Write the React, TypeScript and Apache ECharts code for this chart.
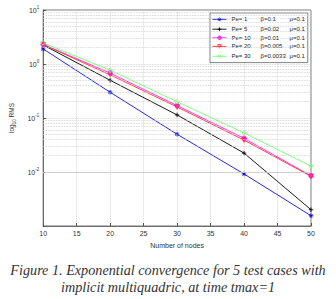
import React, { useEffect, useRef } from "react";
import * as echarts from "echarts";

const nodes = [10, 20, 30, 40, 50];
const pe1 = [1.9, 0.3, 0.05, 0.0092, 0.00155];
const pe5 = [2.25, 0.5, 0.114, 0.0224, 0.002];
const pe10 = [2.3, 0.68, 0.17, 0.042, 0.0085];
const pe20 = [2.3, 0.63, 0.16, 0.039, 0.0083];
const pe30 = [2.45, 0.77, 0.2, 0.053, 0.0129];

const seriesNames = ["Pe= 1", "Pe= 5", "Pe= 10", "Pe= 20", "Pe= 30"];
const betas = ["β=0.1", "β=0.02", "β=0.01", "β=0.005", "β=0.0033"];
const mus = ["μ=0.1", "μ=0.1", "μ=0.1", "μ=0.1", "μ=0.1"];
const colors = ["#1010d0", "#000000", "#ff20ff", "#ff3030", "#70ff70"];
const decades = [-3, -2, -1, 0];
const minorMult = [2, 3, 4, 5, 6, 7, 8, 9];

const captionLines = [
  "Figure 1. Exponential convergence for 5 test cases with",
  "implicit multiquadric, at time tmax=1",
];

const symbols = [
  "path://M5,0L5,10M0,5L10,5M1.5,1.5L8.5,8.5M1.5,8.5L8.5,1.5",
  "path://M5,0L5,10M0,5L10,5",
  "circle",
  "path://M0,1L10,1L5,9Z",
  "path://M5,0L10,5L5,10L0,5Z",
];

export default function App() {
  const ref = useRef<HTMLDivElement>(null);
  useEffect(() => {
    document.body.style.margin = "0";
    const chart = echarts.init(ref.current!, null, { renderer: "svg" });
    const datas = [pe1, pe5, pe10, pe20, pe30];
    const minorLines: any[] = [];
    decades.forEach((d) =>
      minorMult.forEach((m) => minorLines.push({ yAxis: m * Math.pow(10, d) }))
    );
    const itemStyles = colors.map((c, i) => ({
      color: i === 2 ? c : "none",
      borderColor: c,
      borderWidth: 0.9,
    }));
    const series: any[] = datas.map((arr, i) => ({
      name: seriesNames[i],
      type: "line",
      color: colors[i],
      data: arr.map((v, j) => [nodes[j], v]),
      symbol: symbols[i],
      symbolSize: 4.5,
      showAllSymbol: true,
      lineStyle: { color: colors[i], width: 0.9 },
      itemStyle: itemStyles[i],
      z: 3,
    }));
    series.push({
      type: "line",
      data: [],
      silent: true,
      markLine: {
        silent: true,
        symbol: "none",
        label: { show: false },
        lineStyle: { color: "#cccccc", type: "dotted", width: 0.8 },
        data: minorLines,
      },
    });
    chart.setOption({
      animation: false,
      backgroundColor: "#ffffff",
      grid: {
        left: 35,
        right: 25,
        top: 10,
        bottom: 73,
        show: true,
        borderColor: "#555",
        borderWidth: 0.8,
      },
      xAxis: {
        type: "value",
        min: 10,
        max: 50,
        interval: 5,
        name: "Number of nodes",
        nameLocation: "middle",
        nameGap: 16,
        nameTextStyle: { fontSize: 7, color: "#333", fontFamily: "Liberation Sans" },
        axisLine: { lineStyle: { color: "#555", width: 0.8 } },
        axisTick: { inside: true, length: 3, lineStyle: { color: "#555" } },
        axisLabel: {
          fontSize: 7,
          color: "#333",
          margin: 4,
          fontFamily: "Liberation Sans",
        },
        splitLine: { show: true, lineStyle: { color: "#cccccc", type: "dotted", width: 0.8 } },
      },
      yAxis: {
        type: "log",
        logBase: 10,
        min: 0.001,
        max: 10,
        name: "{a|log}{s|10}{a| RMS}",
        nameLocation: "middle",
        nameGap: 25,
        nameTextStyle: {
          rich: {
            a: { fontSize: 6.5, color: "#333", fontFamily: "Liberation Sans" },
            s: { fontSize: 4.5, color: "#333", fontFamily: "Liberation Sans", verticalAlign: "top", padding: [5, 0, 0, 0] },
          },
        },
        axisLine: { lineStyle: { color: "#555", width: 0.8 } },
        axisTick: { inside: true, length: 3, lineStyle: { color: "#555" } },
        axisLabel: {
          margin: 4,
          formatter: (v: number) => {
            const e = Math.round(Math.log10(v));
            if (e === -3) return "";
            return "{b|10}{s|" + e + "}";
          },
          rich: {
            b: { fontSize: 7, color: "#333", fontFamily: "Liberation Sans" },
            s: { fontSize: 4.5, color: "#333", fontFamily: "Liberation Sans", verticalAlign: "bottom", padding: [0, 0, 6, 0] },
          },
        },
        splitLine: { show: true, lineStyle: { color: "#cccccc", type: "dotted", width: 0.8 } },
      },
      legend: {
        data: seriesNames.map((n, i) => ({ name: n, itemStyle: itemStyles[i] })),
        orient: "vertical",
        left: 210,
        top: 13,
        width: 100,
        padding: [2, 3, 2, 2],
        itemGap: 1.3,
        itemWidth: 14,
        itemHeight: 4.5,
        backgroundColor: "#ffffff",
        borderColor: "#333",
        borderWidth: 0.6,
        borderRadius: 0,
        lineStyle: { width: 0.9 },
        formatter: (name: string) => {
          const i = seriesNames.indexOf(name);
          return "{a|" + name + "}{b|" + betas[i] + "}{c|" + mus[i] + "}";
        },
        textStyle: {
          rich: {
            a: { fontSize: 6, color: "#222", width: 29, fontFamily: "Liberation Sans" },
            b: { fontSize: 6, color: "#222", width: 29, fontFamily: "Liberation Sans" },
            c: { fontSize: 6, color: "#222", width: 20, fontFamily: "Liberation Sans" },
          },
        },
      },
      graphic: captionLines.map((t, i) => ({
        type: "text",
        left: "center",
        top: 263 + i * 17,
        style: {
          text: t,
          font: "italic 14.2px 'Liberation Serif'",
          fill: "#333",
        },
      })),
      series,
    });
    return () => chart.dispose();
  }, []);
  return (
    <div
      ref={ref}
      style={{ position: "fixed", left: 0, top: 0, width: 336, height: 299 }}
    />
  );
}
